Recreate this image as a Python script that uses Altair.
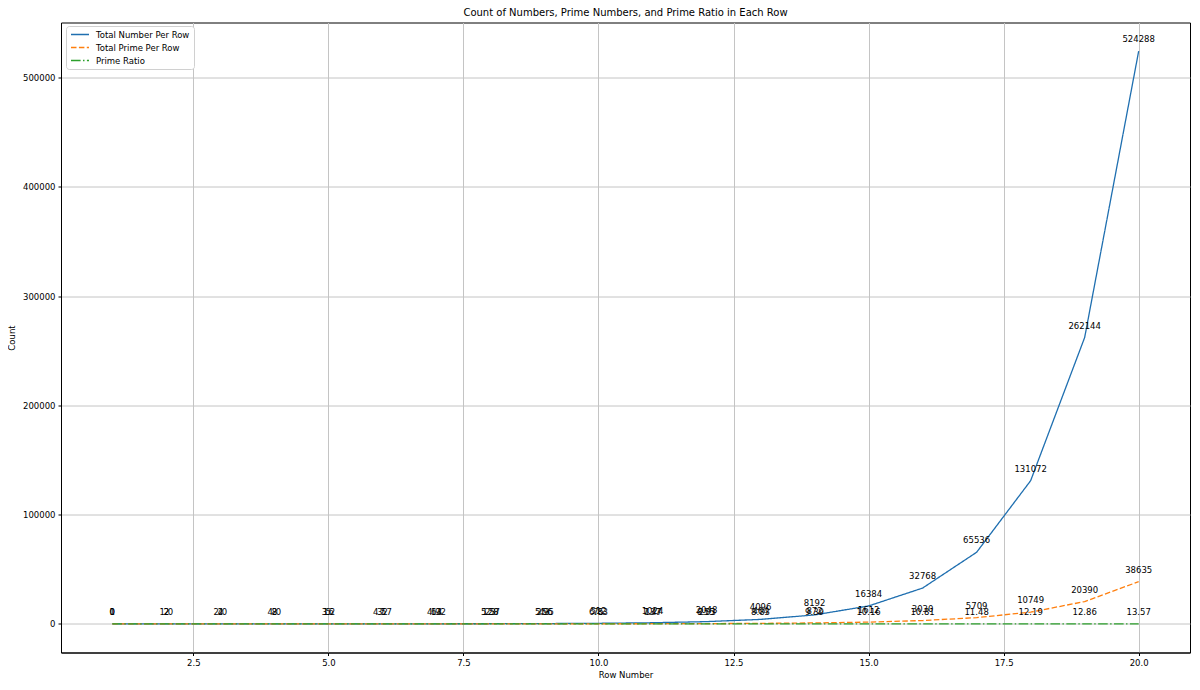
import altair as alt
import pandas as pd

rows = list(range(1, 21))
total_per_row = [1, 2, 4, 8, 16, 32, 64, 128, 256, 512, 1024, 2048, 4096, 8192,
                 16384, 32768, 65536, 131072, 262144, 524288]
prime_per_row = [0, 2, 2, 2, 5, 7, 13, 23, 43, 75, 137, 255, 464, 872,
                 1612, 3030, 5709, 10749, 20390, 38635]
prime_ratio = [0, 1.0, 2.0, 4.0, 3.2, 4.57, 4.92, 5.57, 5.95, 6.83, 7.47, 8.03,
               8.83, 9.39, 10.16, 10.81, 11.48, 12.19, 12.86, 13.57]

series_names = ["Total Number Per Row", "Total Prime Per Row", "Prime Ratio"]
series_colors = ["#1f6fb0", "#ff7f0e", "#2ca02c"]
series_dash = [[1, 0], [5.5, 2.4], [9.6, 2.4, 1.5, 2.4]]

records = []
for name, vals in zip(series_names, [total_per_row, prime_per_row, prime_ratio]):
    for r, v in zip(rows, vals):
        records.append({"row": r, "value": v, "series": name, "label": str(v)})
df = pd.DataFrame(records)

x_enc = alt.X(
    "row:Q",
    scale=alt.Scale(domain=[0.05, 20.95], nice=False, zero=False),
    axis=alt.Axis(title="Row Number", values=[2.5, 5.0, 7.5, 10.0, 12.5, 15.0, 17.5, 20.0],
                  format=".1f", titlePadding=3),
)
y_enc = alt.Y(
    "value:Q",
    scale=alt.Scale(domain=[-26214, 550502], nice=False, zero=False),
    axis=alt.Axis(title="Count", values=[0, 100000, 200000, 300000, 400000, 500000],
                  format="d", titlePadding=6),
)

lines = alt.Chart(df).mark_line(strokeWidth=1.3, clip=True).encode(
    x=x_enc,
    y=y_enc,
    color=alt.Color("series:N", scale=alt.Scale(domain=series_names, range=series_colors),
                    legend=alt.Legend(title=None)),
    strokeDash=alt.StrokeDash("series:N", scale=alt.Scale(domain=series_names, range=series_dash),
                              legend=alt.Legend(title=None)),
    order=alt.Order("row:Q"),
)

labels = alt.Chart(df).mark_text(
    fontSize=8.5, font="DejaVu Sans", color="black", align="center", baseline="bottom", dy=-7
).encode(
    x="row:Q",
    y="value:Q",
    text="label:N",
)

chart = alt.layer(lines, labels).properties(
    width=1129,
    height=630,
    title=alt.TitleParams(
        "Count of Numbers, Prime Numbers, and Prime Ratio in Each Row",
        fontSize=10, font="DejaVu Sans", fontWeight="normal", color="black", offset=5,
    ),
    autosize=alt.AutoSizeParams(type="none"),
    padding={"left": 53, "top": 14.5, "right": 2, "bottom": 28},
).configure_view(
    stroke="black", strokeWidth=1
).configure_axis(
    labelFont="DejaVu Sans", titleFont="DejaVu Sans", labelFontSize=8.5, titleFontSize=8.5,
    titleFontWeight="normal", labelColor="black", titleColor="black",
    domainColor="black", tickColor="black", tickSize=3, labelPadding=3,
    grid=True, gridColor="#c4c4c4", gridWidth=1,
).configure_legend(
    orient="none", legendX=5, legendY=3.5,
    fillColor="white", strokeColor="#d0d0d0", cornerRadius=3, padding=4,
    labelFont="DejaVu Sans", labelFontSize=8.5, labelColor="black",
    symbolType="stroke", symbolSize=324, symbolStrokeWidth=1.5, rowPadding=4,
    clipHeight=9, labelOffset=6,
)

chart.save("out.html", embed_options={"renderer": "svg", "actions": False})
